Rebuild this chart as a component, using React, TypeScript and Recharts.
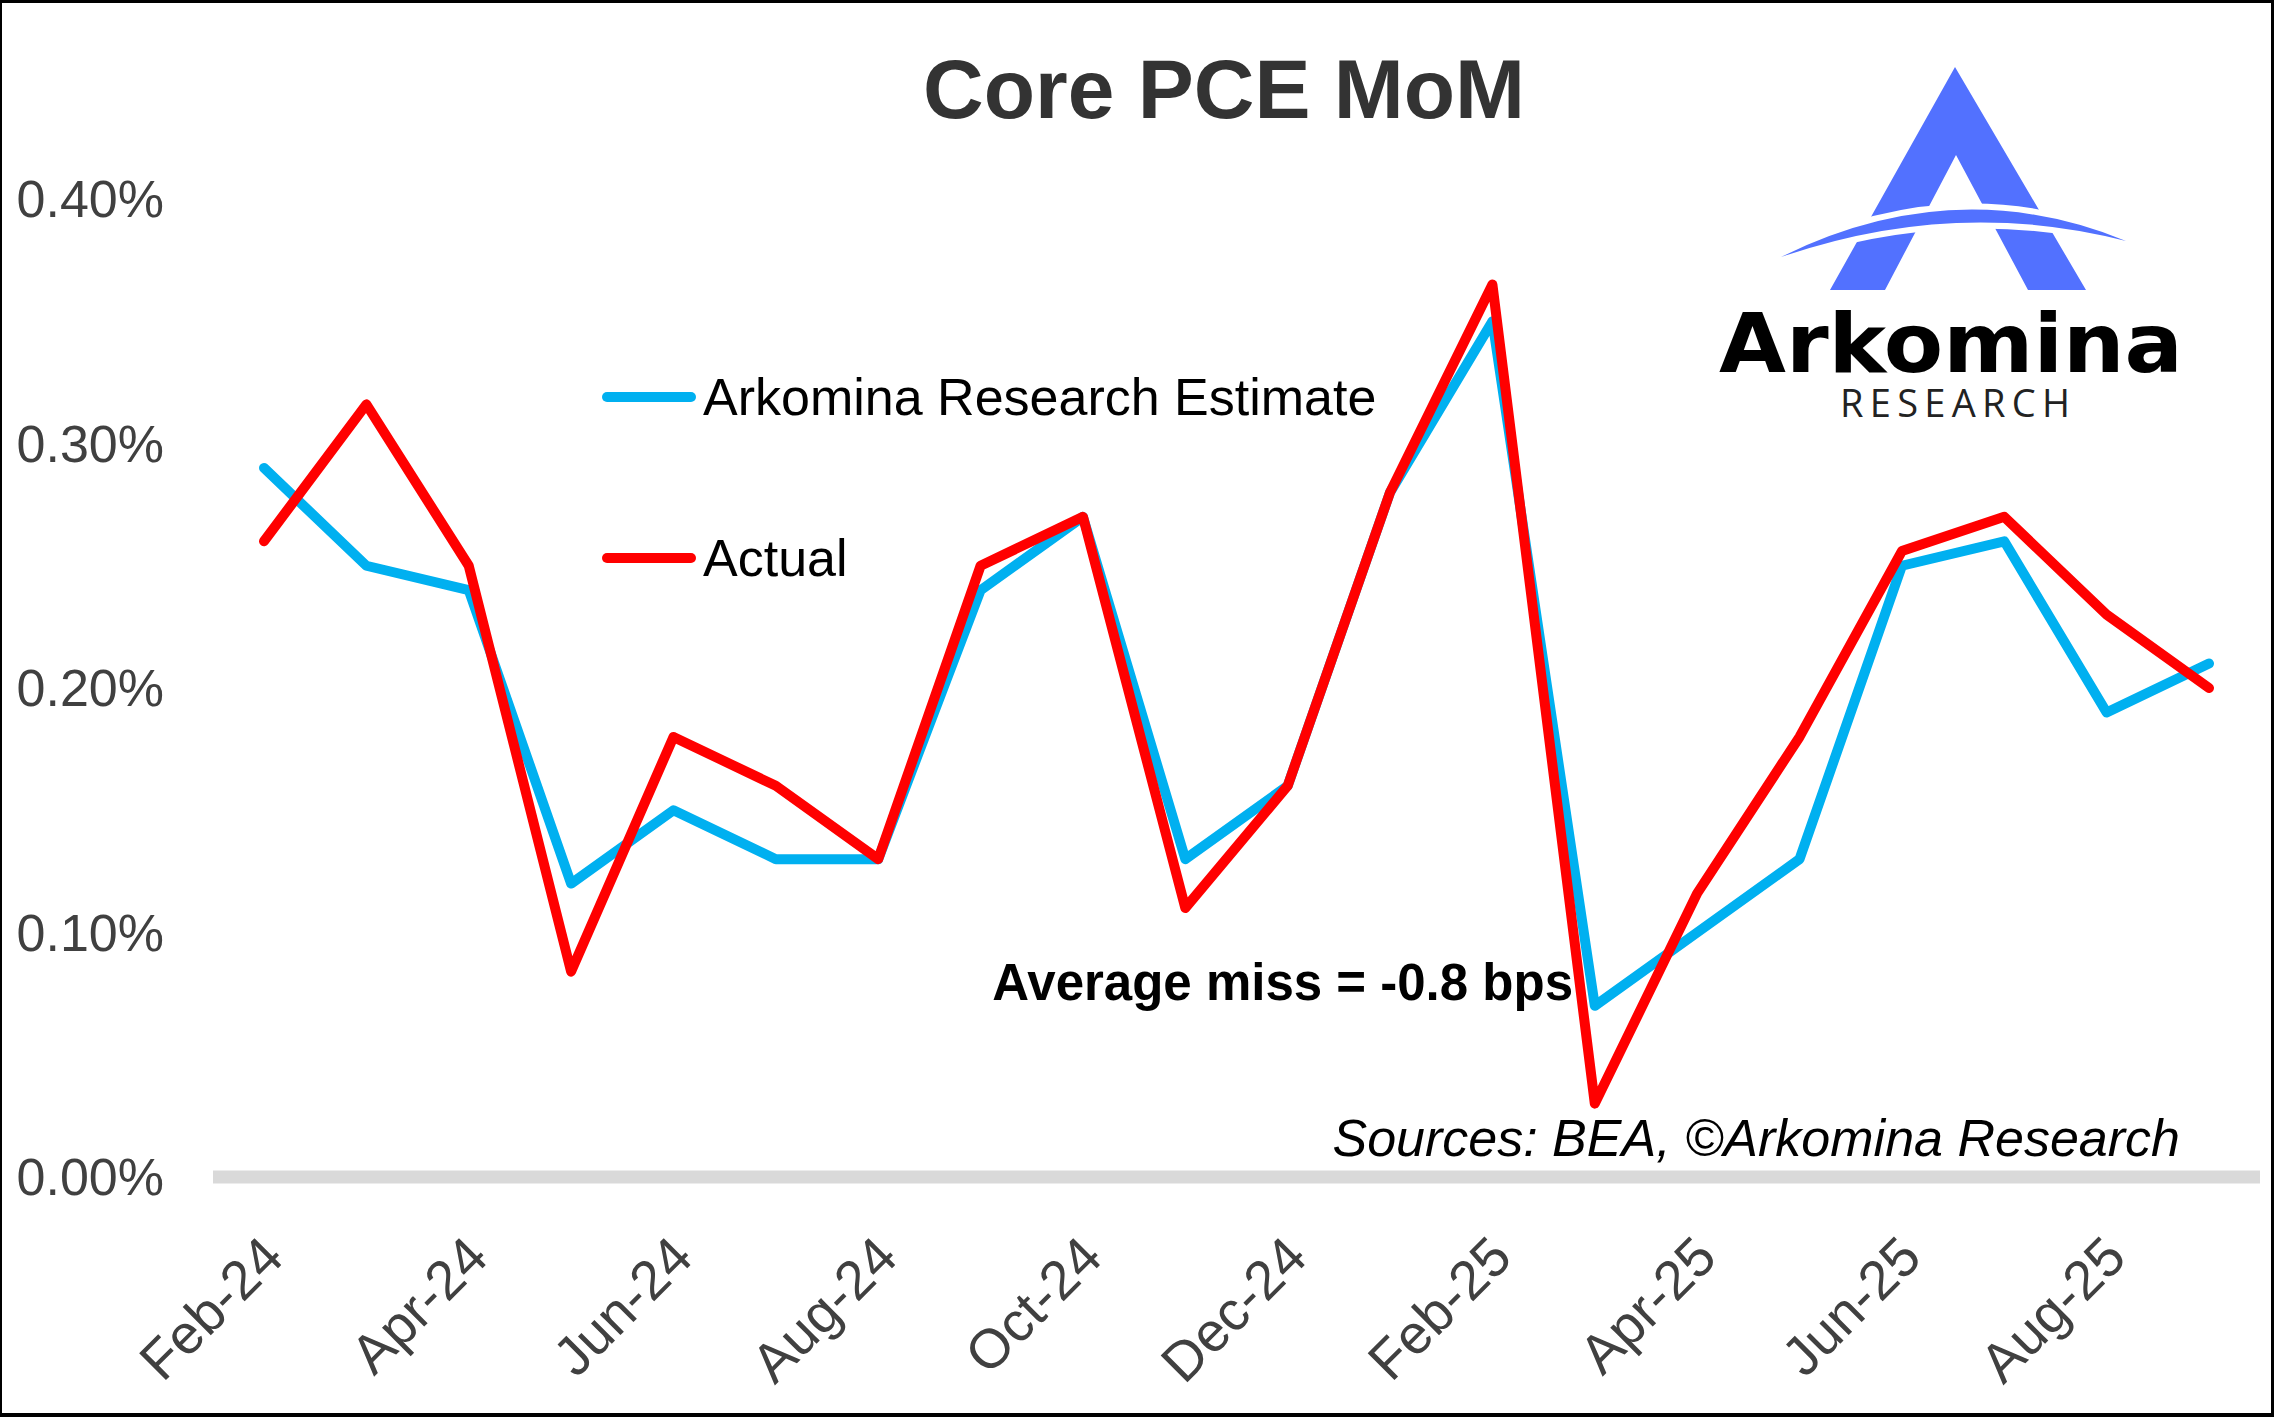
import { LineChart, Line, XAxis, YAxis, Legend } from 'recharts';

const months = [
  'Feb-24', 'Mar-24', 'Apr-24', 'May-24', 'Jun-24', 'Jul-24', 'Aug-24', 'Sep-24', 'Oct-24', 'Nov-24',
  'Dec-24', 'Jan-25', 'Feb-25', 'Mar-25', 'Apr-25', 'May-25', 'Jun-25', 'Jul-25', 'Aug-25', 'Sep-25',
];
// core PCE MoM, in percent
const estimate = [0.29, 0.25, 0.24, 0.12, 0.15, 0.13, 0.13, 0.24, 0.27, 0.13, 0.16, 0.28, 0.35, 0.07, 0.1, 0.13, 0.25, 0.26, 0.19, 0.21];
const actual = [0.26, 0.316, 0.25, 0.084, 0.18, 0.16, 0.13, 0.25, 0.27, 0.11, 0.16, 0.28, 0.365, 0.03, 0.116, 0.18, 0.256, 0.27, 0.23, 0.2];
const yTicks = [0, 0.1, 0.2, 0.3, 0.4];
const legendOrder = ['estimate', 'actual'];

const FONT = '"Liberation Sans", Arial, Helvetica, sans-serif';

const data = months.map((m, i) => ({ month: m, estimate: estimate[i], actual: actual[i] }));

const MonthTick = ({ x, y, payload }: any) => (
  <g transform={`translate(${x - 6},${y})`}>
    <text
      textAnchor="end"
      transform="rotate(-45)"
      dy="0.72em"
      fontSize={55}
      fontFamily={FONT}
      fill="#404040"
    >
      {payload.value}
    </text>
  </g>
);

const LegendBox = ({ payload }: any) => {
  const items = [...(payload || [])].sort(
    (a: any, b: any) => legendOrder.indexOf(a.dataKey) - legendOrder.indexOf(b.dataKey)
  );
  return (
    <div style={{ display: 'flex', flexDirection: 'column' }}>
      {items.map((p: any) => (
        <div key={p.value} style={{ display: 'flex', alignItems: 'center', height: 161 }}>
          <div style={{ width: 94, height: 10, borderRadius: 5, background: p.color }} />
          <span style={{ marginLeft: 7, fontSize: 52, fontFamily: FONT, color: '#000' }}>{p.value}</span>
        </div>
      ))}
    </div>
  );
};

const App = () => {
  return (
    <div style={{ position: 'absolute', left: 0, top: 0, width: 2274, height: 1417, background: '#fff' }}>
      <LineChart width={2274} height={1417} data={data} margin={{ top: 199, right: 14, left: 0, bottom: 40 }}>
        <XAxis
          dataKey="month"
          interval={1}
          padding={{ left: 51, right: 51 }}
          axisLine={{ stroke: '#d9d9d9', strokeWidth: 13 }}
          tickLine={false}
          tickSize={0}
          tickMargin={55}
          height={200}
          tick={<MonthTick />}
        />
        <YAxis
          domain={[0, 0.4]}
          ticks={yTicks}
          width={213}
          axisLine={false}
          tickLine={false}
          tickSize={0}
          tickMargin={49}
          tickFormatter={(v: number) => v.toFixed(2) + '%'}
          tick={{ fontSize: 52, fontFamily: FONT, fill: '#404040' }}
        />
        <Legend
          layout="vertical"
          align="center"
          verticalAlign="middle"
          wrapperStyle={{ left: 602, top: 316, width: 'auto' }}
          content={<LegendBox />}
        />
        <Line
          type="linear"
          dataKey="estimate"
          name="Arkomina Research Estimate"
          stroke="#00b0f0"
          strokeWidth={10}
          strokeLinecap="round"
          strokeLinejoin="round"
          dot={false}
          isAnimationActive={false}
        />
        <Line
          type="linear"
          dataKey="actual"
          name="Actual"
          stroke="#ff0000"
          strokeWidth={10}
          strokeLinecap="round"
          strokeLinejoin="round"
          dot={false}
          isAnimationActive={false}
        />
      </LineChart>

      <svg
        width={2274}
        height={1417}
        style={{ position: 'absolute', left: 0, top: 0, pointerEvents: 'none' }}
      >
        <text x={1224} y={118} textAnchor="middle" fontSize={84} fontWeight="bold" fontFamily={FONT} fill="#333">
          Core PCE MoM
        </text>
        <text x={1573} y={1000} textAnchor="end" fontSize={51} fontWeight="bold" fontFamily={FONT} fill="#000">
          Average miss = -0.8 bps
        </text>
        <text x={2180} y={1156} textAnchor="end" fontSize={52} fontStyle="italic" fontFamily={FONT} fill="#000">
          Sources: BEA, ©Arkomina Research
        </text>

        {/* logo */}
        <polygon points="1955,67 1830,290 1885,290 1956,155 2028,290 2086,290" fill="#5271ff" />
        <path
          d="M1781,257 Q1955,171 2126,241 Q1955,197 1781,257 Z"
          fill="#5271ff"
          stroke="#fff"
          strokeWidth={12}
          strokeLinejoin="round"
          paintOrder="stroke"
        />
        <text
          x={1719}
          y={372}
          textLength={464}
          lengthAdjust="spacingAndGlyphs"
          fontSize={82}
          fontWeight="bold"
          fontFamily='"DejaVu Sans", sans-serif'
          fill="#000"
        >
          Arkomina
        </text>
        <text
          x={1840}
          y={417}
          textLength={230}
          lengthAdjust="spacing"
          fontSize={38}
          fontFamily='"Open Sans", sans-serif'
          fill="#222"
        >
          RESEARCH
        </text>
      </svg>

      <div
        style={{
          position: 'absolute',
          left: 0,
          top: 0,
          width: 2274,
          height: 1417,
          boxSizing: 'border-box',
          borderStyle: 'solid',
          borderColor: '#000',
          borderWidth: '3px 3px 4px 2px',
          pointerEvents: 'none',
        }}
      />
    </div>
  );
};

export default App;
